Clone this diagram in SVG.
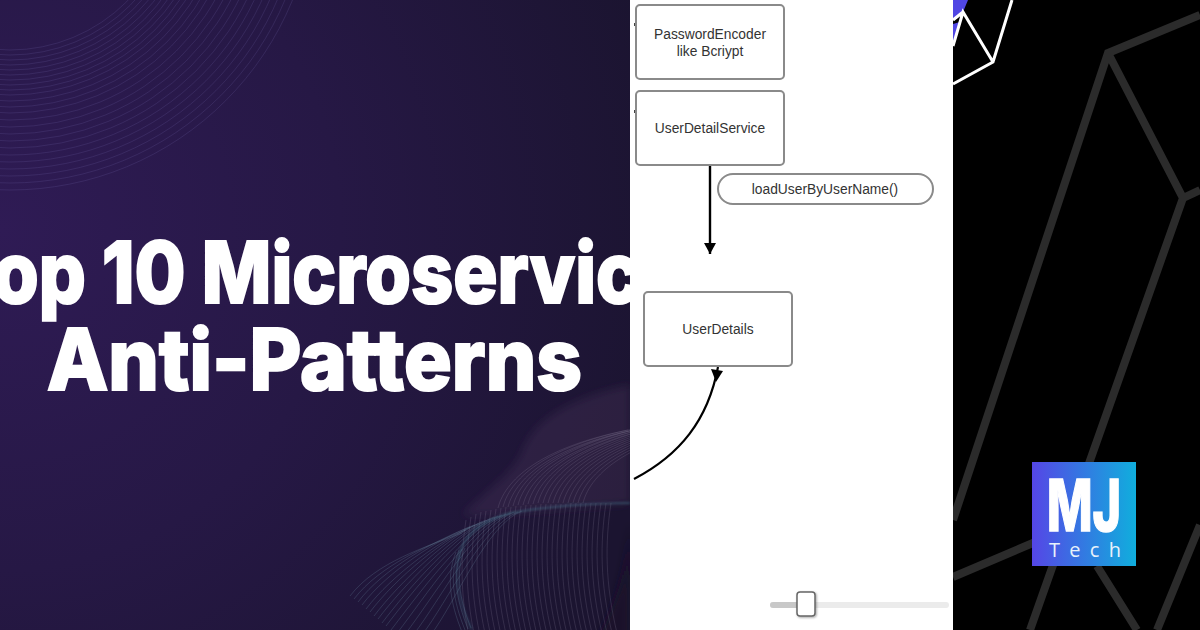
<svg xmlns="http://www.w3.org/2000/svg" xmlns:xlink="http://www.w3.org/1999/xlink" width="1200" height="630" viewBox="0 0 1200 630">
<defs>
<radialGradient id="bg" gradientUnits="userSpaceOnUse" cx="0" cy="230" r="680"><stop offset="0" stop-color="#2f1b55"/><stop offset="0.5" stop-color="#261845"/><stop offset="1" stop-color="#1b1430"/></radialGradient>
<linearGradient id="logo" x1="0" y1="0" x2="1" y2="0"><stop offset="0" stop-color="#5546e6"/><stop offset="1" stop-color="#10aedd"/></linearGradient>
<marker id="ah" markerUnits="userSpaceOnUse" markerWidth="12" markerHeight="12" refX="11" refY="6" orient="auto"><path d="M0 0L11 6L0 12Z" fill="#000"/></marker>
<path id="st" d="M0 0C-6 40 -6 80 6 130"/>
<path id="up" d="M0 0C8 -32 50 -62 130 -78"/>
<path id="dn" d="M0 0C-10 25 -6 50 6 80"/>
<filter id="sh" x="-30%" y="-30%" width="160%" height="160%"><feDropShadow dx="1" dy="1" stdDeviation="1.2" flood-color="#000" flood-opacity=".35"/></filter>
<filter id="soft" x="-10%" y="-10%" width="120%" height="120%"><feGaussianBlur stdDeviation="4"/></filter>
<filter id="soft1" x="-10%" y="-10%" width="120%" height="120%"><feGaussianBlur stdDeviation="0.8"/></filter>
</defs>
<style>
.t{font-family:Inter,"Liberation Sans",sans-serif;font-weight:800;font-size:85px;fill:#fff;stroke:#fff;stroke-width:2.2}
.b{fill:#fff;stroke:#8a8a8a;stroke-width:2}
.l{font-family:"Liberation Sans",Arial,sans-serif;font-size:13.8px;fill:#333;text-anchor:middle}
.dl{fill:none;stroke:#2b2b2b;stroke-width:8}
.wl{fill:none;stroke:#fff;stroke-width:3}
.arc circle{fill:none;stroke:#6a5aa0;stroke-width:.8;stroke-opacity:.3}
.w1 use{fill:none;stroke:#8a7f9c;stroke-width:.7;stroke-opacity:.33}
.w2 use,.w2 path{fill:none;stroke:#6c8aa0;stroke-width:.7;stroke-opacity:.38}
</style>
<rect id="left-bg" width="630" height="630" fill="url(#bg)"/>
<g id="arcs" class="arc">
<circle cx="10" cy="-115" r="305"/><circle cx="10" cy="-115" r="298"/><circle cx="10" cy="-115" r="291"/><circle cx="10" cy="-115" r="284"/><circle cx="10" cy="-115" r="277"/><circle cx="10" cy="-115" r="270"/><circle cx="10" cy="-115" r="263"/><circle cx="10" cy="-115" r="256"/><circle cx="10" cy="-115" r="249"/><circle cx="10" cy="-115" r="242"/><circle cx="10" cy="-115" r="235"/><circle cx="10" cy="-115" r="228"/><circle cx="10" cy="-115" r="222"/><circle cx="10" cy="-115" r="216"/><circle cx="10" cy="-115" r="210"/><circle cx="10" cy="-115" r="205"/><circle cx="10" cy="-115" r="200"/><circle cx="10" cy="-115" r="195"/><circle cx="10" cy="-115" r="190"/><circle cx="10" cy="-115" r="185"/><circle cx="10" cy="-115" r="180"/><circle cx="10" cy="-115" r="175"/><circle cx="10" cy="-115" r="170"/><circle cx="10" cy="-115" r="165"/>
</g>
<g id="waves">
<path d="M462 515C490 488 515 470 522 452C532 425 560 400 630 385V503L490 515Z" fill="#4a3558" fill-opacity=".35" filter="url(#soft)"/>
<path d="M630 520V640H598C622 590 628 560 630 520Z" fill="#17122a" fill-opacity=".75" filter="url(#soft)"/>
<g class="w1">
<use xlink:href="#st" x="466" y="520"/><use xlink:href="#st" x="471" y="517"/><use xlink:href="#st" x="476" y="514"/><use xlink:href="#st" x="481" y="512"/><use xlink:href="#st" x="486" y="511"/><use xlink:href="#st" x="491" y="510"/><use xlink:href="#st" x="496" y="509"/><use xlink:href="#st" x="501" y="508"/><use xlink:href="#st" x="506" y="507"/><use xlink:href="#st" x="511" y="507"/><use xlink:href="#st" x="516" y="506"/><use xlink:href="#st" x="521" y="506"/><use xlink:href="#st" x="526" y="505"/><use xlink:href="#st" x="531" y="505"/><use xlink:href="#st" x="536" y="505"/><use xlink:href="#st" x="541" y="504"/><use xlink:href="#st" x="546" y="504"/><use xlink:href="#st" x="551" y="504"/><use xlink:href="#st" x="556" y="504"/><use xlink:href="#st" x="561" y="504"/><use xlink:href="#st" x="566" y="504"/><use xlink:href="#st" x="571" y="503"/><use xlink:href="#st" x="576" y="503"/><use xlink:href="#st" x="581" y="503"/><use xlink:href="#st" x="586" y="503"/><use xlink:href="#st" x="591" y="503"/><use xlink:href="#st" x="596" y="503"/><use xlink:href="#st" x="601" y="503"/><use xlink:href="#st" x="606" y="503"/><use xlink:href="#st" x="611" y="503"/>
<use xlink:href="#up" x="498" y="508"/><use xlink:href="#up" x="503" y="507"/><use xlink:href="#up" x="508" y="507"/><use xlink:href="#up" x="513" y="506"/><use xlink:href="#up" x="518" y="505"/><use xlink:href="#up" x="523" y="505"/><use xlink:href="#up" x="528" y="504"/><use xlink:href="#up" x="533" y="504"/><use xlink:href="#up" x="538" y="503"/><use xlink:href="#up" x="543" y="503"/><use xlink:href="#up" x="548" y="503"/><use xlink:href="#up" x="553" y="503"/><use xlink:href="#up" x="558" y="503"/><use xlink:href="#up" x="563" y="503"/><use xlink:href="#up" x="568" y="503"/><use xlink:href="#up" x="573" y="503"/><use xlink:href="#up" x="578" y="503"/><use xlink:href="#up" x="583" y="503"/>
</g>
<g class="w2">
<path d="M350 596C376 562 426 547 462 533"/><path d="M354 599C380 565 430 544 466 530"/><path d="M358 602C384 568 434 541 470 527"/><path d="M362 605C388 571 438 539 474 525"/><path d="M366 609C392 575 442 538 478 524"/><path d="M370 612C396 578 446 536 482 522"/><path d="M374 616C400 582 450 534 486 520"/><path d="M378 619C404 585 454 533 490 519"/><path d="M382 623C408 589 458 531 494 517"/><path d="M386 626C412 592 462 530 498 516"/><path d="M391 630C417 596 466 529 502 515"/><path d="M398 632C424 598 470 528 506 514"/><path d="M406 633C432 599 474 527 510 513"/><path d="M414 634C440 600 478 526 514 512"/><path d="M422 635C448 601 482 526 518 512"/><path d="M430 636C456 602 486 525 522 511"/>
<use xlink:href="#dn" x="456" y="552"/><use xlink:href="#dn" x="459" y="550"/><use xlink:href="#dn" x="462" y="549"/><use xlink:href="#dn" x="465" y="548"/>
</g>
<path d="M458 560C462 535 480 522 510 513C555 505 595 503 630 503" fill="none" stroke="#44738a" stroke-width="2" stroke-opacity=".5" filter="url(#soft1)"/>
<path d="M458 560C454 585 462 610 472 630" fill="none" stroke="#44738a" stroke-width="3" stroke-opacity=".25" filter="url(#soft1)"/>
</g>
<g id="title">
<text class="t" x="-7" y="303" textLength="647" lengthAdjust="spacingAndGlyphs">op 10 Microservic</text>
<text class="t" x="47" y="390" textLength="535" lengthAdjust="spacingAndGlyphs">Anti-Patterns</text>
</g>
<rect id="right-bg" x="953" width="247" height="630" fill="#000"/>
<g id="geometry">
<path class="dl" d="M1200 15L1108 53L953 520M1108 53L1183 198L1200 190M1183 198L1030 630M953 577L1040 540M1097 566L1137 630M1157 630L1200 525"/>
<path d="M953 0H968L963 12L953 20ZM953 24L960 22L953 46Z" fill="#5046e4"/>
<path class="wl" d="M1012 0L993 62L953 84M993 62L963 12L953 46M963 12L953 20"/>
</g>
<rect id="panel" x="630" width="323" height="630" fill="#fff"/>
<g id="connectors">
<path d="M710 165V254" fill="none" stroke="#000" stroke-width="2.4" marker-end="url(#ah)"/>
<path d="M634 479C680 455 708 420 718 367" fill="none" stroke="#000" stroke-width="2.2"/>
<path d="M711 369L723 371L716 382Z" fill="#000"/>
</g>
<g id="node-password-encoder"><rect class="b" x="636" y="5" width="148" height="74" rx="4"/><path d="M634.500 23v3" stroke="#444" stroke-width="1"/><text class="l" x="710" y="39">PasswordEncoder</text><text class="l" x="710" y="56">like Bcriypt</text></g>
<g id="node-user-detail-service"><rect class="b" x="636" y="91" width="148" height="74" rx="4"/><path d="M634.500 110v3" stroke="#444" stroke-width="1"/><text class="l" x="710" y="133">UserDetailService</text></g>
<g id="node-load-user"><rect class="b" x="718" y="174" width="215" height="30" rx="15"/><text class="l" x="825" y="194">loadUserByUserName()</text></g>
<g id="node-user-details"><rect class="b" x="644" y="292" width="148" height="74" rx="4"/><text class="l" x="718" y="334">UserDetails</text></g>
<g id="slider">
<rect x="770" y="602" width="179" height="6" rx="3" fill="#ebebeb"/>
<rect x="770" y="602" width="36" height="6" rx="3" fill="#c8c8c8"/>
<rect x="797" y="592" width="18" height="24" rx="3" fill="#fff" stroke="#666" stroke-width="1.5" filter="url(#sh)"/>
</g>
<g id="logo-mark">
<rect x="1032" y="462" width="104" height="104" fill="url(#logo)"/>
<text x="1047" y="531" textLength="74" lengthAdjust="spacingAndGlyphs" font-family="Inter,'Liberation Sans',sans-serif" font-weight="800" font-size="72" fill="#fff" stroke="#fff" stroke-width="1.5">MJ</text>
<text x="1049" y="557" textLength="72" font-family="'Open Sans','Liberation Sans',sans-serif" font-size="20" fill="#e8f2fb">Tech</text>
</g>
</svg>
